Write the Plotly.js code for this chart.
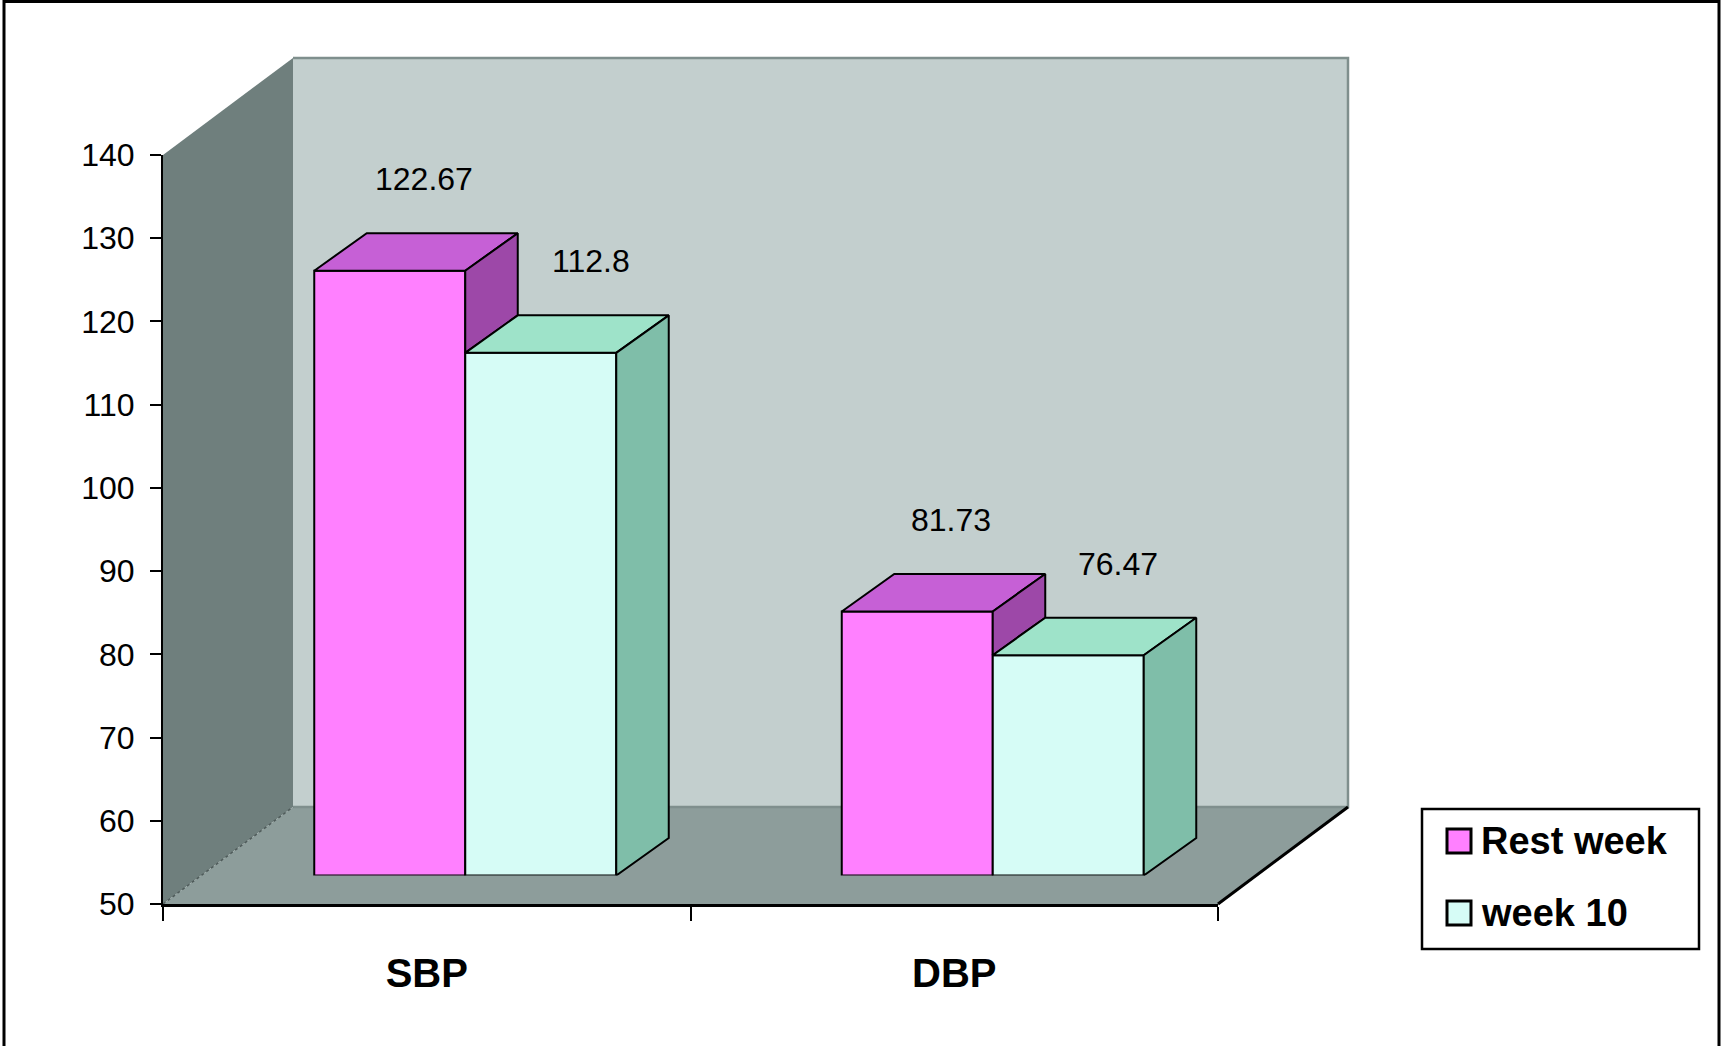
<!DOCTYPE html>
<html>
<head>
<meta charset="utf-8">
<script src="https://cdn.plot.ly/plotly-3.0.1.min.js"></script>
<style>html,body{margin:0;padding:0;background:#fff;}#chart{width:1723px;height:1046px;}</style>
</head>
<body>
<div id="chart"></div>
<script>
// ---------------- data ----------------
const categories = ['SBP', 'DBP'];
const seriesNames = ['Rest week', 'week 10'];
const restWeek = [122.67, 81.73];
const week10 = [112.8, 76.47];
const valueLabels = [['122.67', '81.73'], ['112.8', '76.47']];
const yTickVals = [50, 60, 70, 80, 90, 100, 110, 120, 130, 140];

// ---------------- styles / geometry (pixels) ----------------
const FONT = 'Liberation Sans, Arial, sans-serif';
const frontColors = ['#ff80ff', '#d6fcf6'];
const topColors = ['#c660d6', '#9ee3c9'];
const sideColors = ['#9d48a8', '#7fbea9'];
const labelShift = [0.65, 0.95];
const G = {L: 163, R: 1218, T: 155, B: 904, DX: 130, DY: 97, SX: 38.5, SY: 28.5, BW: 151, BDX: 52.5, BDY: 37.5};
const W = G.R + G.DX - G.L;
const H = G.B - (G.T - G.DY);
const YMIN = 50, YMAX = 140;
const px = x => (x - G.L) / W;
const py = y => (G.B - y) / H;
const catPx = (G.R - G.L) / categories.length;
const yPx = (G.B - G.T) / (YMAX - YMIN);
const bw = G.BW / catPx;
const dxu = G.BDX / catPx;
const dyu = G.BDY / yPx;

const series = [restWeek, week10];
const offsets = [-bw, 0];
const xIdx = categories.map((c, i) => i);

const traces = [];
// invisible trace to register categories on the front (visible) axis
traces.push({x: categories, y: categories.map(() => YMIN), type: 'scatter', mode: 'markers',
  marker: {opacity: 0}, hoverinfo: 'skip', showlegend: false, xaxis: 'x', yaxis: 'y'});

// front faces (bars)
series.forEach((vals, s) => {
  traces.push({
    type: 'bar', name: seriesNames[s], x: xIdx, y: vals.map(v => v - YMIN), base: YMIN,
    offset: offsets[s], width: bw, xaxis: 'x2', yaxis: 'y2',
    marker: {color: frontColors[s], line: {color: '#000', width: 2}},
    customdata: vals, hovertemplate: '%{customdata}<extra>' + seriesNames[s] + '</extra>',
    showlegend: false
  });
});

// top & side faces
series.forEach((vals, s) => {
  vals.forEach((v, i) => {
    const x0 = i + offsets[s], x1 = x0 + bw;
    traces.push({type: 'scatter', mode: 'lines', fill: 'toself', fillcolor: topColors[s],
      x: [x0, x0 + dxu, x1 + dxu, x1, x0], y: [v, v + dyu, v + dyu, v, v],
      line: {color: '#000', width: 2}, xaxis: 'x2', yaxis: 'y2', hoverinfo: 'skip', showlegend: false});
    let bottom = YMIN;
    if (s < series.length - 1) bottom = Math.min(v, Math.max(YMIN, series[s + 1][i]));
    traces.push({type: 'scatter', mode: 'lines', fill: 'toself', fillcolor: sideColors[s],
      x: [x1, x1 + dxu, x1 + dxu, x1, x1], y: [bottom, bottom + dyu, v + dyu, v, bottom],
      line: {color: '#000', width: 2}, xaxis: 'x2', yaxis: 'y2', hoverinfo: 'skip', showlegend: false});
  });
});

// value labels
const annotations = [];
series.forEach((vals, s) => {
  vals.forEach((v, i) => {
    annotations.push({xref: 'x2', yref: 'y2', x: i + offsets[s] + bw / 2 + labelShift[s] * dxu, y: v + dyu,
      text: valueLabels[s][i], showarrow: false, yshift: 54,
      font: {family: FONT, size: 32, color: '#000'}});
  });
});

// custom legend
const LEG = {x0: 1422, y0: 809, x1: 1699, y1: 949, sx: 1447, ss: 24, rows: [841, 913], tx: 1479};
seriesNames.forEach((n, s) => {
  annotations.push({xref: 'paper', yref: 'paper', x: px(LEG.tx), y: py(LEG.rows[s]), xanchor: 'left', yanchor: 'middle',
    text: n, showarrow: false, font: {family: FONT, size: 38, color: '#000', weight: 'bold'}});
});

const P = (pts) => 'M' + pts.map(p => px(p[0]) + ',' + py(p[1])).join('L') + 'Z';
const shapes = [
  // side wall
  {type: 'path', xref: 'paper', yref: 'paper', layer: 'below', fillcolor: '#6f7f7d', line: {width: 0},
   path: P([[G.L, G.T], [G.L + G.DX, G.T - G.DY], [G.L + G.DX, G.B - G.DY], [G.L, G.B]])},
  // back wall
  {type: 'path', xref: 'paper', yref: 'paper', layer: 'below', fillcolor: '#c3cfce', line: {width: 0},
   path: P([[G.L + G.DX, G.T - G.DY], [G.R + G.DX, G.T - G.DY], [G.R + G.DX, G.B - G.DY], [G.L + G.DX, G.B - G.DY]])},
  // floor
  {type: 'path', xref: 'paper', yref: 'paper', layer: 'below', fillcolor: '#8d9d9b', line: {width: 0},
   path: P([[G.L, G.B], [G.L + G.DX, G.B - G.DY], [G.R + G.DX, G.B - G.DY], [G.R, G.B]])},
  // back wall edges
  {type: 'path', xref: 'paper', yref: 'paper', layer: 'below', line: {color: '#7f8f8d', width: 2.5},
   path: 'M' + px(G.L + G.DX) + ',' + py(G.T - G.DY) + 'L' + px(G.R + G.DX) + ',' + py(G.T - G.DY) +
         'L' + px(G.R + G.DX) + ',' + py(G.B - G.DY) + 'L' + px(G.L + G.DX) + ',' + py(G.B - G.DY)},
  // floor / side wall seam
  {type: 'line', xref: 'paper', yref: 'paper', layer: 'below', x0: px(G.L), y0: py(G.B), x1: px(G.L + G.DX), y1: py(G.B - G.DY),
   line: {color: '#4f5b5a', width: 1.5, dash: 'dot'}},
  // floor right edge
  {type: 'line', xref: 'paper', yref: 'paper', x0: px(G.R), y0: py(G.B), x1: px(G.R + G.DX), y1: py(G.B - G.DY),
   line: {color: '#000', width: 3}},
  // outer frame
  {type: 'rect', xref: 'paper', yref: 'paper', x0: px(4), y0: py(1.5), x1: px(1719), y1: py(1060),
   line: {color: '#000', width: 3}},
  // legend box
  {type: 'rect', xref: 'paper', yref: 'paper', x0: px(LEG.x0), y0: py(LEG.y0), x1: px(LEG.x1), y1: py(LEG.y1),
   fillcolor: '#fff', line: {color: '#000', width: 2.5}}
];
seriesNames.forEach((n, s) => {
  shapes.push({type: 'rect', xref: 'paper', yref: 'paper', x0: px(LEG.sx), x1: px(LEG.sx + LEG.ss),
    y0: py(LEG.rows[s] - LEG.ss / 2), y1: py(LEG.rows[s] + LEG.ss / 2),
    fillcolor: frontColors[s], line: {color: '#000', width: 3}});
});

const layout = {
  width: 1723, height: 1046,
  margin: {l: G.L, r: 1723 - (G.R + G.DX), t: G.T - G.DY, b: 1046 - G.B, autoexpand: false},
  paper_bgcolor: '#fff', plot_bgcolor: 'rgba(0,0,0,0)',
  showlegend: false, barmode: 'overlay',
  font: {family: FONT, color: '#000'},
  xaxis: {type: 'category', domain: [0, (G.R - G.L) / W], range: [-0.5, categories.length - 0.5],
    tickson: 'boundaries', ticks: 'outside', ticklen: 14, tickwidth: 2, tickcolor: '#000',
    showline: true, linecolor: '#000', linewidth: 3, showgrid: false, zeroline: false,
    tickfont: {family: FONT, size: 40, color: '#000', weight: 'bold'}, ticklabelstandoff: 32, fixedrange: true},
  yaxis: {domain: [0, (G.B - G.T) / H], range: [YMIN, YMAX], tickvals: yTickVals,
    ticks: 'outside', ticklen: 11, tickwidth: 2, tickcolor: '#000',
    showline: true, linecolor: '#000', linewidth: 2, showgrid: false, zeroline: false,
    tickfont: {family: FONT, size: 32, color: '#000'}, ticklabelstandoff: 9, fixedrange: true},
  xaxis2: {domain: [G.SX / W, (G.R - G.L + G.SX) / W], range: [-0.5, categories.length - 0.5],
    visible: false, anchor: 'y2', fixedrange: true},
  yaxis2: {domain: [G.SY / H, (G.B - G.T + G.SY) / H], range: [YMIN, YMAX],
    visible: false, anchor: 'x2', fixedrange: true},
  shapes: shapes,
  annotations: annotations
};

Plotly.newPlot('chart', traces, layout, {displayModeBar: false, staticPlot: false});
</script>
</body>
</html>
